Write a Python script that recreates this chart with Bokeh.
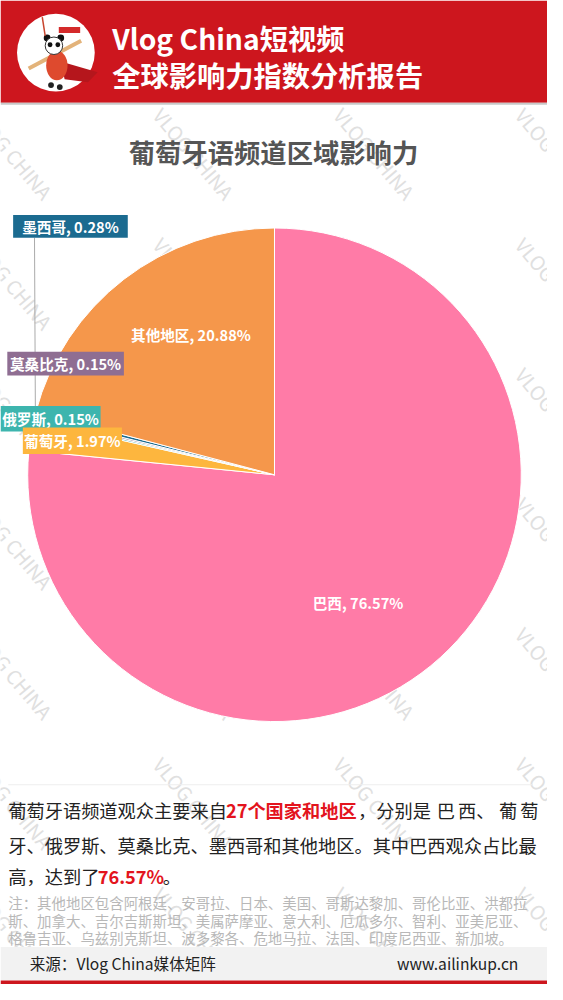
import math
from bokeh.plotting import figure
from bokeh.models import Range1d
from bokeh.core.properties import value
from bokeh.embed import file_html
from bokeh.resources import INLINE

# ---------------- data ----------------
regions = ["巴西", "葡萄牙", "俄罗斯", "莫桑比克", "墨西哥", "其他地区"]
shares = [76.57, 1.97, 0.15, 0.15, 0.28, 20.88]
slice_colors = ["#FF7BA7", "#FDB63E", "#3DB5AE", "#8F6E92", "#1B6B90", "#F5974B"]

title_line1 = "Vlog China短视频"
title_line2 = "全球影响力指数分析报告"
chart_title = "葡萄牙语频道区域影响力"
country_count = "27个国家和地区"
top_share = "76.57%"
note_lines = [
    "注：其他地区包含阿根廷、安哥拉、日本、美国、哥斯达黎加、哥伦比亚、洪都拉",
    "斯、加拿大、吉尔吉斯斯坦、美属萨摩亚、意大利、厄瓜多尔、智利、亚美尼亚、",
    "格鲁吉亚、乌兹别克斯坦、波多黎各、危地马拉、法国、印度尼西亚、新加坡。",
]
source_text = "来源：Vlog China媒体矩阵"
site_text = "www.ailinkup.cn"
watermark = "VLOG CHINA"

# ---------------- layout ----------------
W, H = 547, 984
S = 0.975  # font scale (page coordinates 563x1000 drawn into 547x984)
FONT = value("Noto Sans CJK SC")


def Y(ry):
    return 1000 - ry


def fs(px):
    return f"{px * S:.2f}px"


p = figure(width=W, height=H, x_range=Range1d(0, 563), y_range=Range1d(0, 1000),
           output_backend="svg", toolbar_location=None, min_border=0,
           x_axis_location=None, y_axis_location=None)
p.grid.visible = False
p.outline_line_color = None
p.background_fill_color = "white"
p.border_fill_color = "white"


def txt(x, y, s, size, color, bold=False, align="left"):
    p.text(x=[x], y=[Y(y)], text=[s], text_font=FONT, text_font_size=fs(size),
           text_color=color, text_font_style="bold" if bold else "normal",
           text_align=align, text_baseline="middle")


# watermark grid
wm_x, wm_y = [], []
for cx in [-25, 162, 348, 535]:
    for k in range(7):
        wm_x.append(cx)
        wm_y.append(Y(112 + 132 * k))
p.text(x=wm_x, y=wm_y, text=[watermark] * len(wm_x), angle=-0.87,
       text_align="left", text_baseline="middle", text_color="#e0e0e0",
       text_font_size=fs(20), text_font=FONT)

# header
p.quad(left=0, right=563, top=Y(0), bottom=Y(104), fill_color="#CD161E", line_color=None)
p.line(x=[0, 563], y=[Y(105), Y(105)], line_color="#c8c8c8", line_width=2)

# logo
p.circle(x=[57], y=[Y(53)], radius=40, fill_color="white", line_color=None)
p.line(x=[29, 83], y=[Y(69), Y(41)], line_color="#E3B37A", line_width=4)
p.patch(x=[62, 100, 90, 66], y=[Y(62), Y(73), Y(83), Y(80)], fill_color="#B5161C", line_color=None)
p.ellipse(x=[58], y=[Y(66)], width=22, height=30, fill_color="#DE4A2E", line_color=None)
p.circle(x=[52, 61], y=[Y(86), Y(88)], radius=3, fill_color="#222", line_color=None)
p.circle(x=[48, 62], y=[Y(38), Y(38)], radius=3.5, fill_color="#111", line_color=None)
p.circle(x=[55], y=[Y(46)], radius=9, fill_color="white", line_color="#333", line_width=1)
p.circle(x=[51, 59], y=[Y(45), Y(45)], radius=2.5, fill_color="#111", line_color=None)
p.quad(left=60, right=82, top=Y(27), bottom=Y(33), fill_color="#D42A2A", line_color=None)
p.line(x=[43, 46], y=[Y(17), Y(36)], line_color="#C8452E", line_width=1.5)

# titles
txt(115, 38, title_line1, 29, "white", bold=True)
txt(115, 75, title_line2, 29, "white", bold=True)
txt(281, 153, chart_title, 27, "#555555", bold=True, align="center")

# ---------------- pie ----------------
CX, CY, R = 282, 482, 254
total = sum(shares)
starts, ends, mids = [], [], []
cum = 0.0
for s in shares:
    a0 = math.pi / 2 - 2 * math.pi * cum / total
    cum += s
    a1 = math.pi / 2 - 2 * math.pi * cum / total
    starts.append(a1)
    ends.append(a0)
    mids.append((a0 + a1) / 2)
p.wedge(x=CX, y=Y(CY), radius=R, start_angle=starts, end_angle=ends,
        fill_color=slice_colors, line_color="white", line_width=1)

labels = [f"{n}, {v:.2f}%" for n, v in zip(regions, shares)]

# inside labels (巴西, 其他地区)
inside_pos = {0: (368, 612), 5: (196, 339)}
for i, (lx, ly) in inside_pos.items():
    txt(lx, ly, labels[i], 15, "white", bold=True, align="center")

# leader line for 墨西哥
mx = CX + R * math.cos(mids[4])
my = Y(CY) + R * math.sin(mids[4])
p.line(x=[35, mx], y=[Y(241), my], line_color="#aaaaaa", line_width=1)

# outside boxed labels: (index, left, right, top, bottom)
boxes = [(4, 13, 131, 218, 241), (3, 7, 127, 357, 381),
         (2, 0, 103, 412, 438), (1, 23, 125, 434, 461)]
for i, l, r, t, b in boxes:
    p.quad(left=l, right=r, top=Y(t), bottom=Y(b), fill_color=slice_colors[i], line_color=None)
    txt((l + r) / 2, (t + b) / 2, labels[i], 15, "white", bold=True, align="center")

# ---------------- text block ----------------
p.line(x=[8, 548], y=[Y(797), Y(797)], line_color="#eeeeee", line_width=1)
FS = 18.7
DARK = "#222222"
RED = "#E3141D"
txt(8, 823, "葡萄牙语频道观众主要来自", FS, DARK)
txt(232, 823, country_count, FS, RED, bold=True)
for s, x in [("，分别是", 368), ("巴", 449), ("西、", 471), ("葡", 513), ("萄", 535)]:
    txt(x, 823, s, FS, DARK)
txt(8, 858, "牙、俄罗斯、莫桑比克、墨西哥和其他地区。其中巴西观众占比最", FS, DARK)
txt(8, 890, "高，达到了", FS, DARK)
txt(100, 890, top_share, FS, RED, bold=True)
txt(167, 890, "。", FS, DARK)

# footer band (drawn before notes so the notes stay readable)
p.quad(left=0, right=563, top=Y(962), bottom=Y(996), fill_color="#f2f2f2", line_color=None)
p.quad(left=0, right=563, top=Y(996), bottom=Y(1000), fill_color="#CD161E", line_color=None)

for k, line in enumerate(note_lines):
    txt(8, 917 + 17.5 * k, line, 14.8, "#b8b8b8")

txt(30, 978, source_text, 16, "#222222")
txt(533, 978, site_text, 16, "#222222", align="right")

open("out.html", "w").write(file_html(p, INLINE))
